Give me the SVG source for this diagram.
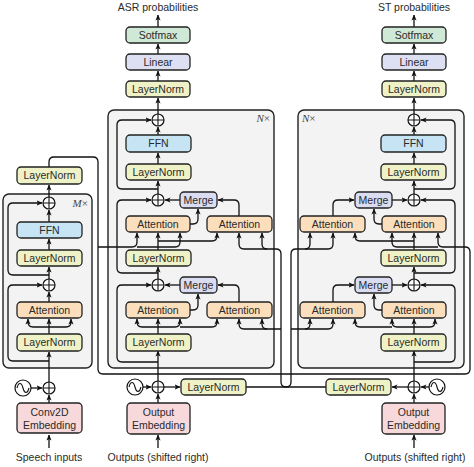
<svg xmlns="http://www.w3.org/2000/svg" xmlns:xlink="http://www.w3.org/1999/xlink" width="474" height="467" viewBox="0 0 474 467">
<style>
.ln{fill:none;stroke:#111;stroke-width:1.3}
.ar{marker-end:url(#ah)}
.bx{stroke:#222;stroke-width:1.3}
.fr{fill:#f3f3f3;stroke:#222;stroke-width:1.4}
.ln-n{fill:#eff2c6}.ffn{fill:#c6e4f4}.att{fill:#fbdfbd}.mrg{fill:#dadcf1}.lin{fill:#dde0f3}.smx{fill:#d0e9d6}.emb{fill:#f7d9dc}
.t{font-family:"Liberation Sans",Arial,sans-serif;font-size:10.5px;fill:#2a2a2a;text-anchor:middle}
.nx{font-family:"Liberation Serif","Times New Roman",serif;font-size:11px;fill:#444}
.op{fill:#fff;stroke:#111;stroke-width:1.2}
</style>
<defs>
<marker id="ah" markerWidth="6" markerHeight="6" refX="5.5" refY="3" orient="auto" markerUnits="userSpaceOnUse"><path d="M0,0.4 L6,3 L0,5.6 L1.5,3 z" fill="#111"/></marker>
<g id="plus"><circle r="6" class="op"/><path d="M-6,0H6M0,-6V6" stroke="#111" stroke-width="1.1"/></g>
<g id="sine"><circle r="8" class="op"/><path d="M-6,0 C-4.5,-6 -1.5,-6 0,0 C1.5,6 4.5,6 6,0" fill="none" stroke="#111" stroke-width="1.1"/></g>
</defs>

<g id="frames">
<rect class="fr" x="3" y="194" width="89" height="174" rx="6"/>
<rect class="fr" x="108" y="110" width="166" height="258" rx="6"/>
<rect class="fr" x="298" y="110" width="166" height="258" rx="6"/>
<text class="nx" x="88" y="207" text-anchor="end"><tspan font-style="italic">M</tspan>×</text>
<text class="nx" x="270" y="122" text-anchor="end"><tspan font-style="italic">N</tspan>×</text>
<text class="nx" x="302" y="122"><tspan font-style="italic">N</tspan>×</text>
</g>

<g id="connectors">
<!-- encoder -->
<path class="ln ar" d="M49,448V435"/>
<path class="ln ar" d="M49,403V395"/>
<path class="ln ar" d="M31,388H42"/>
<path class="ln ar" d="M49,382V352"/>
<path class="ln ar" d="M49,361H13Q8,361 8,356V290Q8,285 13,285H42"/>
<path class="ln ar" d="M49,334V319"/>
<path class="ln ar" d="M49,327H33Q28,327 28,322V319"/>
<path class="ln ar" d="M49,327H66Q71,327 71,322V319"/>
<path class="ln ar" d="M49,302V292"/>
<path class="ln ar" d="M49,279V267"/>
<path class="ln ar" d="M49,275H13Q8,275 8,270V208Q8,203 13,203H42"/>
<path class="ln ar" d="M49,250V239"/>
<path class="ln ar" d="M49,222V210"/>
<path class="ln ar" d="M49,197V185"/>
<!-- encoder output -->
<path class="ln ar" d="M49,167V162Q49,157 54,157H93Q98,157 98,162V369Q98,374 103,374H465Q470,374 470,369V252Q470,247 465,247H443Q438,247 438,242V233"/>
<path class="ln ar" d="M438,247H397Q392,247 392,242V233"/>
<path class="ln ar" d="M98,247H132Q137,247 137,242V233"/>
<path class="ln ar" d="M137,247H175Q180,247 180,242V233"/>
<!-- cross lines -->
<path class="ln ar" d="M246,387H286Q291,387 291,382V254Q291,249 296,249H305Q310,249 310,244V233"/>
<path class="ln ar" d="M305,249H328Q333,249 333,244V233"/>
<path class="ln ar" d="M291,329H305Q310,329 310,324V319"/>
<path class="ln ar" d="M305,329H328Q333,329 333,324V319"/>
<path class="ln ar" d="M326,387H286Q281,387 281,382V254Q281,249 276,249H267Q262,249 262,244V233"/>
<path class="ln ar" d="M267,249H244Q239,249 239,244V233"/>
<path class="ln ar" d="M281,329H267Q262,329 262,324V319"/>
<path class="ln ar" d="M267,329H244Q239,329 239,324V319"/>
<!-- decoder 1 -->
<path class="ln ar" d="M158,448V435"/>
<path class="ln ar" d="M158,403V394"/>
<path class="ln ar" d="M143,387H151"/>
<path class="ln ar" d="M164,387H180"/>
<path class="ln ar" d="M158,381V351"/>
<path class="ln ar" d="M158,362H122Q117,362 117,357V290Q117,285 122,285H151"/>
<path class="ln ar" d="M158,334V319"/>
<path class="ln ar" d="M158,327H142Q137,327 137,322V319"/>
<path class="ln ar" d="M158,327H175Q180,327 180,322V319"/>
<path class="ln ar" d="M180,327H212Q217,327 217,322V319"/>
<path class="ln ar" d="M190,310H193Q198,310 198,305V294"/>
<path class="ln ar" d="M239,302V290Q239,285 234,285H218"/>
<path class="ln ar" d="M180,285H165"/>
<path class="ln ar" d="M158,279V267"/>
<path class="ln ar" d="M158,273H122Q117,273 117,268V205Q117,200 122,200H151"/>
<path class="ln ar" d="M158,250V233"/>
<path class="ln ar" d="M158,241H212Q217,241 217,236V233"/>
<path class="ln ar" d="M190,224H193Q198,224 198,219V209"/>
<path class="ln ar" d="M239,216V205Q239,200 234,200H218"/>
<path class="ln ar" d="M180,200H165"/>
<path class="ln ar" d="M158,194V181"/>
<path class="ln ar" d="M158,189H122Q117,189 117,184V125Q117,120 122,120H151"/>
<path class="ln ar" d="M158,164V153"/>
<path class="ln ar" d="M158,135V127"/>
<path class="ln ar" d="M158,114V98"/>
<path class="ln ar" d="M158,81V71"/>
<path class="ln ar" d="M158,54V44"/>
<path class="ln ar" d="M158,27V15"/>
<!-- decoder 2 -->
<path class="ln ar" d="M414,448V435"/>
<path class="ln ar" d="M414,403V394"/>
<path class="ln ar" d="M429,387H421"/>
<path class="ln ar" d="M408,387H392"/>
<path class="ln ar" d="M414,381V351"/>
<path class="ln ar" d="M414,362H450Q455,362 455,357V290Q455,285 450,285H421"/>
<path class="ln ar" d="M414,334V319"/>
<path class="ln ar" d="M414,327H430Q435,327 435,322V319"/>
<path class="ln ar" d="M414,327H397Q392,327 392,322V319"/>
<path class="ln ar" d="M392,327H360Q355,327 355,322V319"/>
<path class="ln ar" d="M382,310H379Q374,310 374,305V294"/>
<path class="ln ar" d="M333,302V290Q333,285 338,285H354"/>
<path class="ln ar" d="M392,285H407"/>
<path class="ln ar" d="M414,279V267"/>
<path class="ln ar" d="M414,273H450Q455,273 455,268V205Q455,200 450,200H421"/>
<path class="ln ar" d="M414,250V233"/>
<path class="ln ar" d="M414,241H360Q355,241 355,236V233"/>
<path class="ln ar" d="M382,224H379Q374,224 374,219V209"/>
<path class="ln ar" d="M333,216V205Q333,200 338,200H354"/>
<path class="ln ar" d="M392,200H407"/>
<path class="ln ar" d="M414,194V181"/>
<path class="ln ar" d="M414,189H450Q455,189 455,184V125Q455,120 450,120H421"/>
<path class="ln ar" d="M414,164V153"/>
<path class="ln ar" d="M414,135V127"/>
<path class="ln ar" d="M414,114V98"/>
<path class="ln ar" d="M414,81V71"/>
<path class="ln ar" d="M414,54V44"/>
<path class="ln ar" d="M414,27V15"/>
</g>

<g id="ops">
<use href="#plus" x="49" y="388"/><use href="#plus" x="49" y="285"/><use href="#plus" x="49" y="203"/>
<use href="#sine" x="23" y="388"/>
<use href="#plus" x="158" y="387"/><use href="#plus" x="158" y="285"/><use href="#plus" x="158" y="200"/><use href="#plus" x="158" y="120"/>
<use href="#sine" x="135" y="387"/>
<use href="#plus" x="414" y="387"/><use href="#plus" x="414" y="285"/><use href="#plus" x="414" y="200"/><use href="#plus" x="414" y="120"/>
<use href="#sine" x="437" y="387"/>
</g>

<g id="enc-input"><text class="t" x="49" y="461">Speech inputs</text></g>
<g id="enc-emb"><rect class="bx emb" x="17" y="403" width="65" height="30" rx="4"/><text class="t" x="49.5" y="415.5">Conv2D</text><text class="t" x="49.5" y="429">Embedding</text></g>
<g id="enc-ln1"><rect class="bx ln-n" x="17" y="334" width="65" height="17" rx="4"/><text class="t" x="49.5" y="346">LayerNorm</text></g>
<g id="enc-att"><rect class="bx att" x="17" y="302" width="65" height="16" rx="4"/><text class="t" x="49.5" y="313.5">Attention</text></g>
<g id="enc-ln2"><rect class="bx ln-n" x="17" y="250" width="65" height="16" rx="4"/><text class="t" x="49.5" y="261.5">LayerNorm</text></g>
<g id="enc-ffn"><rect class="bx ffn" x="17" y="222" width="65" height="16" rx="4"/><text class="t" x="49.5" y="233.5">FFN</text></g>
<g id="enc-ln3"><rect class="bx ln-n" x="17" y="167" width="65" height="17" rx="4"/><text class="t" x="49.5" y="179">LayerNorm</text></g>

<g id="d1-out"><text class="t" x="158" y="11">ASR probabilities</text></g>
<g id="d1-smx"><rect class="bx smx" x="126" y="27" width="64" height="16" rx="4"/><text class="t" x="158" y="38.5">Sotfmax</text></g>
<g id="d1-lin"><rect class="bx lin" x="126" y="54" width="64" height="16" rx="4"/><text class="t" x="158" y="65.5">Linear</text></g>
<g id="d1-lnf"><rect class="bx ln-n" x="126" y="81" width="64" height="16" rx="4"/><text class="t" x="158" y="92.5">LayerNorm</text></g>
<g id="d1-ffn"><rect class="bx ffn" x="126" y="135" width="65" height="17" rx="4"/><text class="t" x="158.5" y="147">FFN</text></g>
<g id="d1-ln3"><rect class="bx ln-n" x="126" y="164" width="65" height="16" rx="4"/><text class="t" x="158.5" y="175.5">LayerNorm</text></g>
<g id="d1-mrg2"><rect class="bx mrg" x="180" y="192" width="37" height="16" rx="4"/><text class="t" x="198.5" y="203.5">Merge</text></g>
<g id="d1-att3"><rect class="bx att" x="126" y="216" width="64" height="16" rx="4"/><text class="t" x="158" y="227.5">Attention</text></g>
<g id="d1-att4"><rect class="bx att" x="207" y="216" width="65" height="16" rx="4"/><text class="t" x="239.5" y="227.5">Attention</text></g>
<g id="d1-ln2"><rect class="bx ln-n" x="126" y="250" width="65" height="16" rx="4"/><text class="t" x="158.5" y="261.5">LayerNorm</text></g>
<g id="d1-mrg1"><rect class="bx mrg" x="180" y="277" width="37" height="16" rx="4"/><text class="t" x="198.5" y="288.5">Merge</text></g>
<g id="d1-att1"><rect class="bx att" x="126" y="302" width="64" height="16" rx="4"/><text class="t" x="158" y="313.5">Attention</text></g>
<g id="d1-att2"><rect class="bx att" x="207" y="302" width="65" height="16" rx="4"/><text class="t" x="239.5" y="313.5">Attention</text></g>
<g id="d1-ln1"><rect class="bx ln-n" x="126" y="334" width="65" height="17" rx="4"/><text class="t" x="158.5" y="346">LayerNorm</text></g>
<g id="d1-lne"><rect class="bx ln-n" x="181" y="379" width="65" height="16" rx="4"/><text class="t" x="213.5" y="390.5">LayerNorm</text></g>
<g id="d1-emb"><rect class="bx emb" x="127" y="403" width="63" height="31" rx="4"/><text class="t" x="158.5" y="415.5">Output</text><text class="t" x="158.5" y="429">Embedding</text></g>
<g id="d1-in"><text class="t" x="158" y="461">Outputs (shifted right)</text></g>

<g id="d2-out"><text class="t" x="414" y="11">ST probabilities</text></g>
<g id="d2-smx"><rect class="bx smx" x="382" y="27" width="64" height="16" rx="4"/><text class="t" x="414" y="38.5">Sotfmax</text></g>
<g id="d2-lin"><rect class="bx lin" x="382" y="54" width="64" height="16" rx="4"/><text class="t" x="414" y="65.5">Linear</text></g>
<g id="d2-lnf"><rect class="bx ln-n" x="382" y="81" width="64" height="16" rx="4"/><text class="t" x="414" y="92.5">LayerNorm</text></g>
<g id="d2-ffn"><rect class="bx ffn" x="381" y="135" width="65" height="17" rx="4"/><text class="t" x="413.5" y="147">FFN</text></g>
<g id="d2-ln3"><rect class="bx ln-n" x="381" y="164" width="65" height="16" rx="4"/><text class="t" x="413.5" y="175.5">LayerNorm</text></g>
<g id="d2-mrg2"><rect class="bx mrg" x="355" y="192" width="37" height="16" rx="4"/><text class="t" x="373.5" y="203.5">Merge</text></g>
<g id="d2-att4"><rect class="bx att" x="300" y="216" width="65" height="16" rx="4"/><text class="t" x="332.5" y="227.5">Attention</text></g>
<g id="d2-att3"><rect class="bx att" x="382" y="216" width="64" height="16" rx="4"/><text class="t" x="414" y="227.5">Attention</text></g>
<g id="d2-ln2"><rect class="bx ln-n" x="381" y="250" width="65" height="16" rx="4"/><text class="t" x="413.5" y="261.5">LayerNorm</text></g>
<g id="d2-mrg1"><rect class="bx mrg" x="355" y="277" width="37" height="16" rx="4"/><text class="t" x="373.5" y="288.5">Merge</text></g>
<g id="d2-att2"><rect class="bx att" x="300" y="302" width="65" height="16" rx="4"/><text class="t" x="332.5" y="313.5">Attention</text></g>
<g id="d2-att1"><rect class="bx att" x="382" y="302" width="64" height="16" rx="4"/><text class="t" x="414" y="313.5">Attention</text></g>
<g id="d2-ln1"><rect class="bx ln-n" x="381" y="334" width="65" height="17" rx="4"/><text class="t" x="413.5" y="346">LayerNorm</text></g>
<g id="d2-lne"><rect class="bx ln-n" x="326" y="379" width="65" height="16" rx="4"/><text class="t" x="358.5" y="390.5">LayerNorm</text></g>
<g id="d2-emb"><rect class="bx emb" x="382" y="403" width="63" height="31" rx="4"/><text class="t" x="413.5" y="415.5">Output</text><text class="t" x="413.5" y="429">Embedding</text></g>
<g id="d2-in"><text class="t" x="415" y="461">Outputs (shifted right)</text></g>
</svg>
